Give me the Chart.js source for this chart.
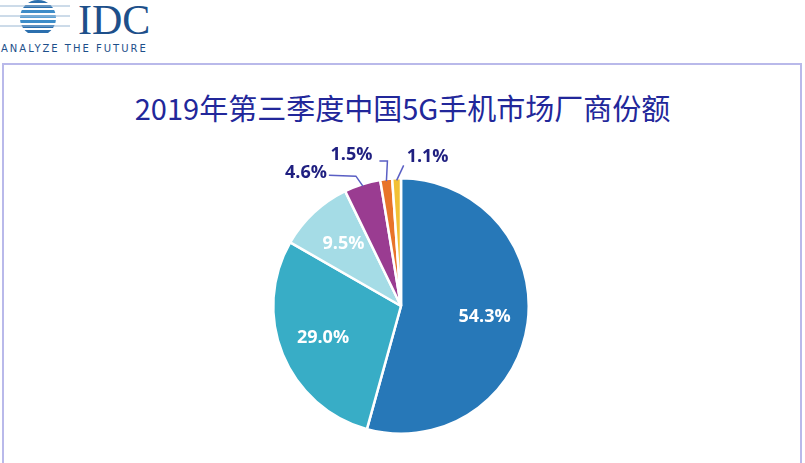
<!DOCTYPE html>
<html><head><meta charset="utf-8">
<script src="https://cdn.jsdelivr.net/npm/chart.js@4"></script>
<style>
body{margin:0;width:805px;height:463px;background:#fff;overflow:hidden;position:relative;font-family:"Open Sans","Noto Sans CJK SC",sans-serif}
#frame{position:absolute;left:2px;top:63px;width:800px;height:420px;border:2px solid #b9b9ea;box-sizing:border-box}
#logo{position:absolute;left:0;top:0}
#title{position:absolute;left:0;width:805px;top:86px;text-align:center;font-size:29px;color:#22279a;font-family:"Noto Sans CJK SC","Noto Sans",sans-serif}
canvas{position:absolute;left:0;top:0}
</style></head><body>
<div id="frame"></div>
<svg id="logo" width="170" height="56">
  <defs><clipPath id="globeClip"><circle cx="38" cy="18" r="18"/></clipPath></defs>
  <g clip-path="url(#globeClip)" fill="#2b6fae">
    <rect x="0" y="0" width="80" height="3"/><rect x="0" y="5" width="80" height="3"/>
    <rect x="0" y="10" width="80" height="3" fill="#3d8cc8"/><rect x="0" y="15" width="80" height="3" fill="#5aa0d4"/>
    <rect x="0" y="20" width="80" height="3" fill="#3d8cc8"/><rect x="0" y="25" width="80" height="3"/>
    <rect x="0" y="30" width="80" height="3"/>
  </g>
  <g stroke="#9ab7d3" stroke-width="1"><line x1="0" y1="6" x2="70" y2="6"/><line x1="0" y1="16" x2="70" y2="16"/><line x1="0" y1="26" x2="70" y2="26"/></g>
  <text x="78" y="34" font-family="Liberation Serif,serif" font-size="42" fill="#1d4f8a">IDC</text>
  <text x="1" y="52" font-family="DejaVu Sans,sans-serif" font-size="10" letter-spacing="2" fill="#1d4f8a">ANALYZE THE FUTURE</text>
</svg>
<div id="title">2019年第三季度中国5G手机市场厂商份额</div>
<canvas id="pieCanvas" width="805" height="463"></canvas>
<script>
const vendors = ['华为', 'vivo', '三星', '中兴', '小米', '其他'];
const shares = [54.3, 29.0, 9.5, 4.6, 1.5, 1.1];
const colors = ['#2778b8', '#38adc6', '#a5dce6', '#9a3c91', '#e8742a', '#f2c035'];

// labels: inside for big slices, outside with leader lines for small ones
const outside = {
  3: {pts: [[-7, -10], [-34, -11]], tx: -36, ty: -13, align: 'right'},
  4: {pts: [[1, -20], [-7, -20]], tx: -14, ty: -26, align: 'right'},
  5: {pts: [[7, -15]], tx: 10, ty: -23, align: 'left'}
};
const labelPlugin = {
  id: 'labels',
  afterDatasetsDraw(chart) {
    const ctx = chart.ctx;
    const arcs = chart.getDatasetMeta(0).data;
    ctx.save();
    ctx.font = 'bold 18px "Open Sans", sans-serif';
    ctx.textBaseline = 'middle';
    arcs.forEach((arc, i) => {
      const mid = (arc.startAngle + arc.endAngle) / 2;
      const txt = shares[i].toFixed(1) + '%';
      if (!outside[i]) {
        const r = arc.outerRadius * 0.66;
        ctx.fillStyle = '#fff';
        ctx.textAlign = 'center';
        ctx.fillText(txt, arc.x + Math.cos(mid) * r, arc.y + Math.sin(mid) * r);
        return;
      }
      const o = outside[i];
      const sx = arc.x + Math.cos(mid) * (arc.outerRadius - 2);
      const sy = arc.y + Math.sin(mid) * (arc.outerRadius - 2);
      ctx.strokeStyle = '#5a5fc4';
      ctx.lineWidth = 1.5;
      ctx.beginPath();
      ctx.moveTo(sx, sy);
      o.pts.forEach(p => ctx.lineTo(sx + p[0], sy + p[1]));
      ctx.stroke();
      ctx.fillStyle = '#1f1f80';
      ctx.textAlign = o.align;
      ctx.fillText(txt, sx + o.tx, sy + o.ty);
    });
    ctx.restore();
  }
};

new Chart(document.getElementById('pieCanvas'), {
  type: 'pie',
  data: {
    labels: vendors,
    datasets: [{data: shares, backgroundColor: colors, borderColor: '#fff', borderWidth: 2.5}]
  },
  options: {
    responsive: false,
    animation: false,
    layout: {padding: {left: 272, right: 275, top: 177, bottom: 28}},
    plugins: {legend: {display: false}, tooltip: {enabled: false}}
  },
  plugins: [labelPlugin]
});
</script>
</body></html>
